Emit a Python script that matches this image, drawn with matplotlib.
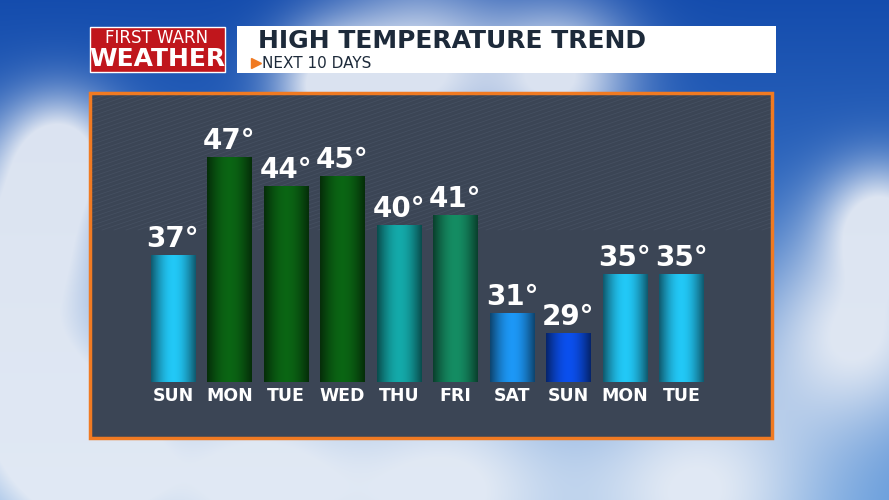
import numpy as np
import matplotlib
matplotlib.use("Agg")
import matplotlib.pyplot as plt
from matplotlib.patches import Rectangle
from matplotlib.colors import to_rgb

days = ["SUN", "MON", "TUE", "WED", "THU", "FRI", "SAT", "SUN", "MON", "TUE"]
highs = [37, 47, 44, 45, 40, 41, 31, 29, 35, 35]
bar_colors = ["#1fb6e0", "#0a5c12", "#0a5c12", "#0a5c12", "#129a9a", "#13805a",
              "#1a8ae0", "#0a48d8", "#1fb6e0", "#1fb6e0"]

W, H = 889, 500
fig = plt.figure(figsize=(W/100, H/100), dpi=100)
bg = fig.add_axes([0, 0, 1, 1])
bg.set_xlim(0, W); bg.set_ylim(H, 0); bg.axis("off")

yy, xx = np.mgrid[0:H, 0:W]
t = yy / H
sky = np.zeros((H, W, 3))
top = np.array([0.08, 0.30, 0.68]); bot = np.array([0.35, 0.58, 0.85])
for c in range(3):
    sky[..., c] = top[c]*(1-t) + bot[c]*t
cl = np.zeros((H, W))
for cx, cy, r in [(30, 230, 60), (20, 380, 80), (860, 330, 70), (880, 220, 40),
                  (450, 490, 90), (250, 480, 80), (700, 490, 90), (420, 70, 60),
                  (560, 75, 50), (330, 85, 40), (60, 150, 40), (80, 470, 60)]:
    cl += np.exp(-((xx-cx)**2 + (yy-cy)**2) / (2*r**2))
cl = np.clip(cl, 0, 1)[..., None]
sky = sky*(1-cl*0.9) + np.array([0.94, 0.95, 0.97])*cl*0.9
bg.imshow(sky, extent=(0, W, H, 0), zorder=0)

panel = Rectangle((90, 93), 682, 345, facecolor="#3b4555", edgecolor="none", zorder=1)
bg.add_patch(panel)
for k in range(-40, 60):
    x0 = 90 + k*12
    ln, = bg.plot([x0, x0+400], [230, 95], color="#4b5668", lw=0.6, alpha=0.6, zorder=1.5)
    ln.set_clip_path(panel)
bg.add_patch(Rectangle((90, 93), 682, 345, facecolor="none", edgecolor="#f07a22", lw=2.5, zorder=2))

bg.add_patch(Rectangle((90, 27), 135, 45, facecolor="#c0161c", edgecolor="white", lw=1, zorder=3))
bg.text(157, 38, "FIRST WARN", color="white", fontsize=12, ha="center", va="center", zorder=4, family="Liberation Sans Narrow")
bg.text(157, 59, "WEATHER", color="white", fontsize=18, fontweight="bold", ha="center", va="center", zorder=4, family="Liberation Sans Narrow")
bg.add_patch(Rectangle((237, 26), 539, 47, facecolor="white", zorder=3))
bg.text(258, 41, "HIGH TEMPERATURE TREND", color="#1d2a3a", fontsize=18, fontweight="bold", va="center", zorder=4)
bg.text(262, 63, "NEXT 10 DAYS", color="#1d2a3a", fontsize=11, va="center", zorder=4)
bg.plot([256], [63], marker=">", color="#f07a22", ms=7, zorder=4)

ax = fig.add_axes([90/W, (H-438)/H, 682/W, 345/H])
ax.axis("off")
px_per_deg = 9.8
base = 24
ax.set_ylim(base - (438-382)/px_per_deg, base + (382-93)/px_per_deg)
sp = 56.5
ax.set_xlim((90-173)/sp, (772-173)/sp)
x = np.arange(len(days))
bars = ax.bar(x, np.array(highs)-base, bottom=base, width=45/sp, color=bar_colors, zorder=2)
for b, c, v, d, xi in zip(bars, bar_colors, highs, days, x):
    rgb = np.array(to_rgb(c))
    prof = 0.5 + 0.6*np.sin(np.pi*np.linspace(0, 1, 64))
    img = np.clip(rgb[None, None, :]*prof[None, :, None], 0, 1)
    im = ax.imshow(img, extent=(b.get_x(), b.get_x()+b.get_width(), base, v), aspect="auto", zorder=3)
    im.set_clip_path(b)
    ax.text(xi, v + 0.2, f"{v}°", color="white", fontsize=20, fontweight="bold", ha="center", va="bottom", zorder=4)
    ax.text(xi, base - 0.5, d, color="white", fontsize=12.5, fontweight="bold", ha="center", va="top", zorder=4)

fig.savefig("out.png", dpi=100)
